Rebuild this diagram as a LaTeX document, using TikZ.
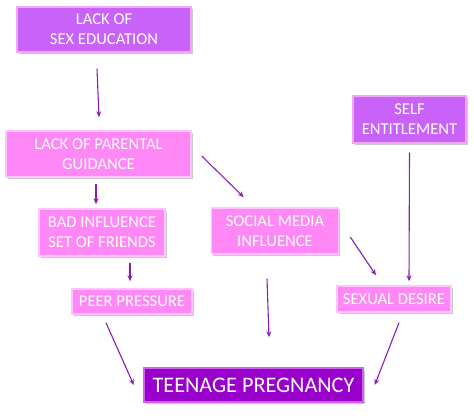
\documentclass[tikz,border=0pt]{standalone}
\usepackage{fontspec}
\setmainfont{Carlito}
\usetikzlibrary{shadows,calc,arrows.meta}
\definecolor{violetbox}{HTML}{C862F8}
\definecolor{violetedge}{HTML}{F2A6F6}
\definecolor{pinkbox}{HTML}{FF88F6}
\definecolor{pinkedge}{HTML}{FFC4FB}
\definecolor{darkbox}{HTML}{9A00CC}
\definecolor{darkedge}{HTML}{D060F0}
\definecolor{arrowcol}{HTML}{8A1CB8}
\tikzset{
  basebox/.style={rectangle, inner sep=0pt, text=white, align=center, line width=1.5pt,
    drop shadow={shadow xshift=1.5pt, shadow yshift=-1.8pt, opacity=0.35, fill=black!60}},
  vbox/.style={basebox, fill=violetbox, draw=violetedge, font=\fontsize{16.6}{20}\selectfont},
  pbox/.style={basebox, fill=pinkbox, draw=pinkedge, font=\fontsize{16.6}{20}\selectfont},
  dbox/.style={basebox, fill=darkbox, draw=darkedge, font=\fontsize{22.2}{24}\selectfont},
  conn/.style={draw=arrowcol, line width=1.1pt, -{Stealth[length=6pt,width=5pt]}}
}
\begin{document}
\begin{tikzpicture}[x=1pt,y=-1pt]
\useasboundingbox (0,0) rectangle (474,419);
\node[vbox, minimum width=174pt, minimum height=45pt] (sexed) at (104,29.5) {LACK OF\\SEX EDUCATION};
\node[pbox, minimum width=185pt, minimum height=46pt] (parent) at (98.5,154) {LACK OF PARENTAL\\GUIDANCE};
\node[pbox, minimum width=126pt, minimum height=47pt] (friends) at (102,232.5) {BAD INFLUENCE\\SET OF FRIENDS};
\node[pbox, minimum width=120pt, minimum height=25pt] (peer) at (132,301.5) {PEER PRESSURE};
\node[pbox, minimum width=127pt, minimum height=46pt] (social) at (275,231) {SOCIAL MEDIA\\INFLUENCE};
\node[vbox, minimum width=113pt, minimum height=47pt] (self) at (409.5,119.5) {SELF\\ENTITLEMENT};
\node[pbox, minimum width=114pt, minimum height=26pt] (desire) at (394,299) {SEXUAL DESIRE};
\node[dbox, minimum width=219pt, minimum height=34pt] (teen) at (253.5,385) {TEENAGE PREGNANCY};

\draw[conn] ([shift={(-7,16)}]sexed.south) -- ([shift={(0.5,-13)}]parent.north);
\draw[conn] ([shift={(-2.5,6)}]parent.south) -- ([shift={(-6,-4)}]friends.north);
\draw[conn] ([shift={(28,6)}]friends.south) -- ([shift={(-2,-7)}]peer.north);
\draw[conn] ([shift={(-26,8)}]peer.south) -- ([shift={(-9.5,0)}]teen.west);
\draw[conn] ([shift={(10,2)}]parent.east) -- ([shift={(33,-10)}]social.north west);
\draw[conn] ([shift={(11,6)}]social.east) -- ([shift={(-18,-10)}]desire.north);
\draw[conn] ([shift={(-8,24)}]social.south) -- ([shift={(15.5,-30)}]teen.north);
\draw[conn] ([shift={(0,9)}]self.south) -- ([shift={(15,-4)}]desire.north);
\draw[conn] ([shift={(5,10)}]desire.south) -- ([shift={(11,0)}]teen.east);
\end{tikzpicture}
\end{document}
